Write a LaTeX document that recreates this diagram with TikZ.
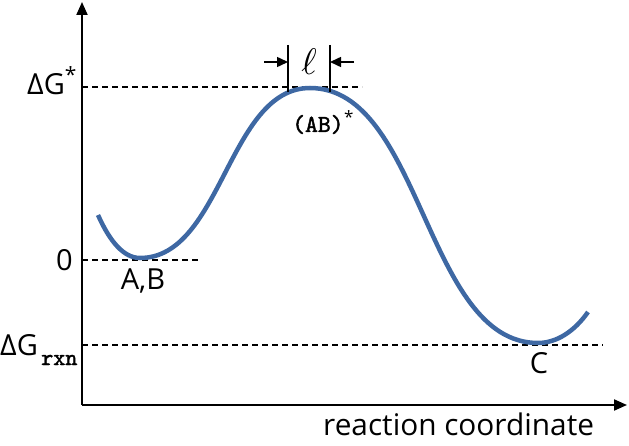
\documentclass[tikz,border=0pt]{standalone}
\usepackage{fontspec}
\setmainfont{Open Sans}
\newfontfamily\monob[FakeBold=1.8]{Latin Modern Mono}
\usetikzlibrary{arrows.meta}
\definecolor{curveblue}{RGB}{62,104,163}
\tikzset{
  axis/.style={line width=2pt,-{Triangle[length=13pt,width=11pt]}},
  guide/.style={line width=1.5pt,dash pattern=on 6pt off 4pt},
  tick/.style={line width=1.5pt},
  lbl/.style={inner sep=0pt,anchor=base,font=\fontsize{29}{29}\selectfont},
  mono/.style={inner sep=0pt,anchor=base west,font=\monob\fontsize{10}{10}\selectfont},
  energy/.style={line width=4.5pt,curveblue}
}
\begin{document}
\begin{tikzpicture}[x=1pt,y=-1pt]
\useasboundingbox (0,0) rectangle (629,446);
% axes
\coordinate (O) at (82,405);
\coordinate (ytip) at (82,2);
\coordinate (xtip) at (627,405);
\draw[axis] (O) -- (ytip);
\draw[axis] (O) -- (xtip);
% guide lines
\coordinate (g1a) at (82,87);  \coordinate (g1b) at (362,87);
\coordinate (g0a) at (82,260); \coordinate (g0b) at (200,260);
\coordinate (g2a) at (82,345); \coordinate (g2b) at (603,345);
\draw[guide] (g1a) -- (g1b);
\draw[guide] (g0a) -- (g0b);
\draw[guide] (g2a) -- (g2b);
% curve
\coordinate (s) at (98,215);
\coordinate (m1) at (140,258);
\coordinate (mx) at (310,88);
\coordinate (m2) at (538,343);
\coordinate (e) at (588,312);
\draw[energy,line cap=butt] (s) .. controls (110,242) and (124,258) .. (m1)
  .. controls (222,258) and (228,88) .. (mx)
  .. controls (422,88) and (425,343) .. (m2)
  .. controls (556,343) and (574,332) .. (e);
% width marker
\coordinate (l1t) at (288,45); \coordinate (l1b) at (288,92);
\coordinate (l2t) at (330,45); \coordinate (l2b) at (330,92);
\draw[tick] (l1t) -- (l1b);
\draw[tick] (l2t) -- (l2b);
\coordinate (a1) at (264,62); \coordinate (a1e) at (288,62);
\coordinate (a2) at (354,62); \coordinate (a2e) at (330,62);
\draw[tick,-{Triangle[length=11pt,width=10pt]}] (a1) -- (a1e);
\draw[tick,-{Triangle[length=11pt,width=10pt]}] (a2) -- (a2e);
\node[inner sep=0pt,anchor=base] (ell) at (309,75) {\fontsize{10}{10}\selectfont\scalebox{3.7}{$\ell$}};
% labels
\node[lbl,anchor=base west] (dGs) at (27,95) {ΔG\raisebox{0.42em}{\fontsize{21}{21}\selectfont *}};
\node[lbl,anchor=base east] (zero) at (73,271) {0};
\node[lbl,anchor=base west] (dGr) at (0,355) {ΔG};
\node[mono] (rxn) at (41,365) {\scalebox{2.3}{rxn}};
\node[lbl] (AB) at (143,290) {A,B};
\node[lbl] (C) at (539,373) {C};
\node[mono] (TS) at (292,132) {\scalebox{2.45}{(AB)}};
\node[inner sep=0pt,anchor=base west,font=\fontsize{17}{17}\selectfont] (TSs) at (344,124) {*};
\node[lbl,anchor=base west,font=\fontsize{29.8}{29.8}\selectfont] (xl) at (323,435) {reaction coordinate};
\end{tikzpicture}
\end{document}
